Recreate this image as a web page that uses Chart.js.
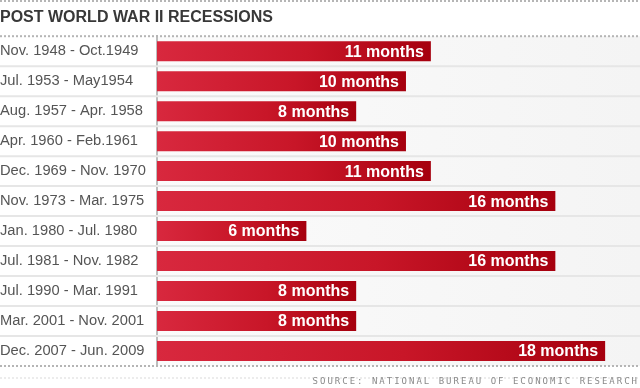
<!DOCTYPE html>
<html>
<head>
<meta charset="utf-8">
<script src="https://cdn.jsdelivr.net/npm/chart.js@4"></script>
<style>
  html, body { margin: 0; padding: 0; background: #fff; }
  #wrap { width: 640px; height: 388px; position: relative; }
</style>
</head>
<body>
<div id="wrap"><canvas id="recessions"></canvas></div>
<script>
// data
var periods = [
  'Nov. 1948 - Oct.1949',
  'Jul. 1953 - May1954',
  'Aug. 1957 - Apr. 1958',
  'Apr. 1960 - Feb.1961',
  'Dec. 1969 - Nov. 1970',
  'Nov. 1973 - Mar. 1975',
  'Jan. 1980 - Jul. 1980',
  'Jul. 1981 - Nov. 1982',
  'Jul. 1990 - Mar. 1991',
  'Mar. 2001 - Nov. 2001',
  'Dec. 2007 - Jun. 2009'
];
var months = [11, 10, 8, 10, 11, 16, 6, 16, 8, 8, 18];
var barLabels = months.map(function(m) { return m + ' months'; });
var title = 'POST WORLD WAR II RECESSIONS';
var source = 'SOURCE: NATIONAL BUREAU OF ECONOMIC RESEARCH';

function dotted(ctx, y, x0, x1, color) {
  ctx.save();
  ctx.strokeStyle = color;
  ctx.lineWidth = 2;
  ctx.setLineDash([2, 2]);
  ctx.beginPath();
  ctx.moveTo(x0, y);
  ctx.lineTo(x1, y);
  ctx.stroke();
  ctx.restore();
}

// background, row rules and dotted borders
var backdrop = {
  id: 'backdrop',
  beforeDraw: function(chart) {
    var ctx = chart.ctx, area = chart.chartArea;
    ctx.save();
    ctx.fillStyle = '#fff';
    ctx.fillRect(0, 0, chart.width, chart.height);
    var g = ctx.createLinearGradient(area.left, 0, chart.width, 0);
    g.addColorStop(0, '#fbfbfb');
    g.addColorStop(1, '#f4f4f4');
    ctx.fillStyle = g;
    ctx.fillRect(area.left, area.top, chart.width - area.left, area.bottom - area.top);
    ctx.restore();
  },
  beforeDatasetsDraw: function(chart) {
    var ctx = chart.ctx, area = chart.chartArea, y = chart.scales.y;
    ctx.save();
    ctx.strokeStyle = '#e6e6e6';
    ctx.lineWidth = 2;
    for (var i = 1; i < periods.length; i++) {
      var yy = (y.getPixelForTick(i - 1) + y.getPixelForTick(i)) / 2;
      ctx.beginPath();
      ctx.moveTo(0, yy);
      ctx.lineTo(chart.width, yy);
      ctx.stroke();
    }
    ctx.restore();
    dotted(ctx, 1, 0, chart.width, '#b5b5b5');
    dotted(ctx, area.top, 0, chart.width, '#b5b5b5');
    dotted(ctx, area.bottom, 0, chart.width, '#b5b5b5');
    dotted(ctx, area.bottom + 12, 0, chart.width, '#ececec');
  },
  afterDatasetsDraw: function(chart) {
    var ctx = chart.ctx;
    var meta = chart.getDatasetMeta(0);
    ctx.save();
    ctx.fillStyle = '#fff';
    ctx.font = 'bold 16px "Liberation Sans", Arial, sans-serif';
    ctx.textAlign = 'right';
    ctx.textBaseline = 'middle';
    meta.data.forEach(function(bar, i) {
      ctx.fillText(barLabels[i], bar.x - 7, bar.y + 1);
    });
    ctx.font = '9px "DejaVu Sans Mono", monospace';
    ctx.letterSpacing = '2px';
    ctx.fillStyle = '#8a8a8a';
    ctx.textBaseline = 'middle';
    ctx.fillText(source, chart.width - 1, chart.height - 6);
    ctx.restore();
  }
};

var ctx = document.getElementById('recessions').getContext('2d');
var chart = new Chart(ctx, {
  type: 'bar',
  data: {
    labels: periods,
    datasets: [{
      data: months,
      barPercentage: 0.667,
      categoryPercentage: 1,
      borderWidth: 0,
      backgroundColor: function(c) {
        var ch = c.chart;
        if (!ch.chartArea || c.parsed === undefined) return '#c8142a';
        var x0 = ch.scales.x.getPixelForValue(0);
        var x1 = ch.scales.x.getPixelForValue(c.parsed.x);
        var g = ch.ctx.createLinearGradient(x0, 0, x1, 0);
        g.addColorStop(0, '#d8283e');
        g.addColorStop(0.55, '#c81628');
        g.addColorStop(1, '#a6000e');
        return g;
      }
    }]
  },
  options: {
    indexAxis: 'y',
    responsive: true,
    maintainAspectRatio: false,
    animation: false,
    layout: { padding: { top: 0, bottom: 22, left: 0, right: 0 } },
    scales: {
      x: { display: false, min: 0, max: 19.4 },
      y: {
        grid: { display: false },
        border: { display: true, color: '#bdbdbd', width: 2 },
        ticks: {
          color: '#555',
          crossAlign: 'far',
          padding: 0,
          font: { family: '"Liberation Sans", Arial, sans-serif', size: 14.7 }
        },
        afterFit: function(axis) { axis.width = 157; }
      }
    },
    plugins: {
      legend: { display: false },
      tooltip: { enabled: false },
      title: {
        display: true,
        text: title,
        align: 'start',
        color: '#383838',
        padding: { top: 8, bottom: 9 },
        font: { family: '"Liberation Sans", Arial, sans-serif', size: 16, weight: 'bold', lineHeight: 1.2 }
      }
    }
  },
  plugins: [backdrop]
});
</script>
</body>
</html>
